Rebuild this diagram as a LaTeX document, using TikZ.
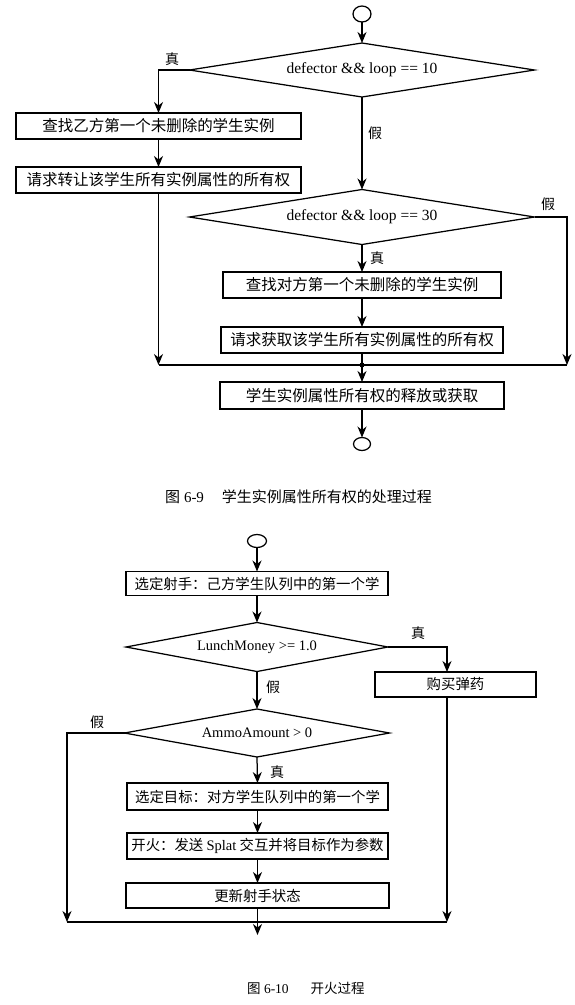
\documentclass[tikz,border=0pt]{standalone}
\usepackage{fontspec}
\setmainfont{Liberation Serif}
\newfontfamily\cjk{Noto Sans CJK SC}
\usetikzlibrary{shapes.geometric,arrows.meta}
\begin{document}
\begin{tikzpicture}[x=1pt,y=-1pt,
  every node/.style={inner sep=0pt, outer sep=0pt},
  line/.style={line width=1.25pt},
  arr/.style={line width=1.25pt,-{Stealth[length=11pt,width=9pt,inset=3.5pt]}},
  box/.style={draw,line width=1.25pt,rectangle,align=center},
  diaA/.style={draw,line width=1.25pt,diamond,aspect=6.4,font=\fontsize{15.5}{18}\selectfont},
  diaB/.style={draw,line width=1.25pt,diamond,aspect=5.4,font=\fontsize{14.5}{17}\selectfont},
  term/.style={draw,line width=1.25pt,ellipse},
  lbl/.style={font=\cjk\fontsize{14}{16}\selectfont},
  ta/.style={font=\cjk\fontsize{15.5}{18}\selectfont},
  tb/.style={font=\cjk\fontsize{14.4}{17}\selectfont},
  dot/.style={circle,fill,minimum size=5pt},
]
\useasboundingbox (0,0) rectangle (575,1005);
\fill[white] (0,0) rectangle (575,1005);

% ---------------- Figure 6-9 ----------------
\node[term,minimum width=18pt,minimum height=16pt] (s1) at (362,14) {};
\node[diaA,minimum width=345pt,minimum height=54pt] (d1) at (362,70) {defector \&\& loop == 10};
\draw[arr] (s1.south) -- (d1.north);

\node[lbl] (t1) at (172,59) {真};
\node[box,ta,minimum width=285pt,minimum height=26pt] (b1) at (158.5,126) {查找乙方第一个未删除的学生实例};
\node[box,ta,minimum width=285pt,minimum height=26pt] (b2) at (158.5,180) {请求转让该学生所有实例属性的所有权};
\draw[arr] (d1.west) -| (b1.north);
\draw[arr] (b1.south) -- (b2.north);

\node[lbl] (f1) at (375,133) {假};
\node[diaA,minimum width=345pt,minimum height=55pt] (d2) at (362,217) {defector \&\& loop == 30};
\draw[arr] (d1.south) -- (d2.north);

\node[lbl] (f2) at (548,204) {假};
\node[lbl] (t2) at (377,258) {真};
\node[box,ta,minimum width=278pt,minimum height=26pt] (b3) at (362,285) {查找对方第一个未删除的学生实例};
\node[box,ta,minimum width=282pt,minimum height=26pt] (b4) at (362,340) {请求获取该学生所有实例属性的所有权};
\draw[arr] (d2.south) -- (b3.north);
\draw[arr] (b3.south) -- (b4.north);

\coordinate (mL) at (158.5,365);
\coordinate (mR) at (567,365);
\node[dot] (jn) at (362,365) {};
\draw[arr] (b2.south) -- (mL);
\draw[arr] (d2.east) -| (mR);
\draw[line] (mL) -- (mR);
\draw[line] (b4.south) -- (jn.center);

\node[box,ta,minimum width=284pt,minimum height=27pt] (b5) at (362,395.5) {学生实例属性所有权的释放或获取};
\draw[arr] (jn.center) -- (b5.north);
\node[term,minimum width=17pt,minimum height=13pt] (e1) at (362,444) {};
\draw[arr] (b5.south) -- (e1.north);

\node[anchor=west,font=\fontsize{15}{18}\selectfont] (c1) at (165,497) {{\cjk 图}\hspace{4pt}6-9\hspace{18pt}{\cjk 学生实例属性所有权的处理过程}};

% ---------------- Figure 6-10 ----------------
\node[term,minimum width=19pt,minimum height=13pt] (s2) at (257,541) {};
\node[box,tb,minimum width=262pt,minimum height=24pt] (bA) at (257,583.5) {选定射手：己方学生队列中的第一个学};
\draw[arr] (s2.south) -- (bA.north);

\node[diaB,minimum width=262pt,minimum height=49pt] (d3) at (257,647) {LunchMoney >= 1.0};
\draw[arr] (bA.south) -- (d3.north);

\node[lbl] (t3) at (418,633) {真};
\coordinate (r3) at (447,647);
\node[box,tb,minimum width=161pt,minimum height=25pt] (bB) at (455.5,684.5) {购买弹药};
\draw[arr] (d3.east) -- (r3) -- (r3 |- bB.north);
\coordinate (mR2) at (447,922);
\coordinate (mL2) at (67,922);
\draw[arr] (bB.south -| r3) -- (mR2);

\node[lbl] (f3) at (273,687) {假};
\node[diaB,minimum width=265pt,minimum height=48pt] (d4) at (257,733) {AmmoAmount > 0};
\draw[arr] (d3.south) -- (d4.north);

\node[lbl] (f4) at (97,722) {假};
\draw[arr] (d4.west) -| (mL2);
\draw[line] (mL2) -- (mR2);

\node[lbl] (t4) at (277,772) {真};
\node[box,tb,minimum width=261pt,minimum height=27pt] (bC) at (257.5,796.5) {选定目标：对方学生队列中的第一个学};
\node[box,tb,minimum width=261pt,minimum height=26pt] (bD) at (257.5,846) {{\cjk 开火：发送} {\fontsize{14.5}{17}\selectfont\rmfamily Splat} {\cjk 交互并将目标作为参数}};
\node[box,tb,minimum width=263pt,minimum height=25pt] (bE) at (257.5,895.5) {更新射手状态};
\draw[arr] (d4.south) -- (bC.north);
\draw[arr] (bC.south) -- (bD.north);
\draw[arr] (bD.south) -- (bE.north);
\coordinate (out2) at (257.5,935);
\draw[arr] (bE.south) -- (out2);

\node[anchor=west,font=\fontsize{13.5}{16}\selectfont] (c2) at (247,988) {{\cjk 图}\hspace{3.5pt}6-10\hspace{22pt}{\cjk 开火过程}};
\end{tikzpicture}
\end{document}
